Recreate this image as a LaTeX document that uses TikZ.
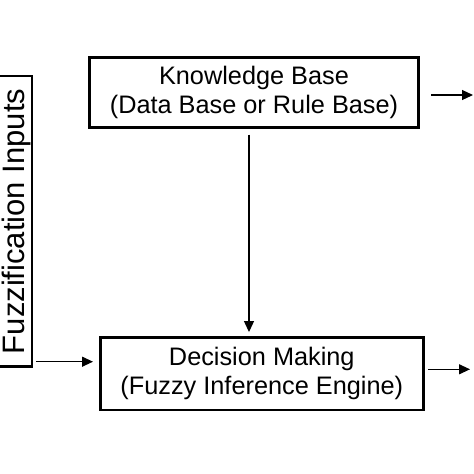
\documentclass[tikz,border=0pt]{standalone}
\usepackage{fontspec}
\setmainfont{Liberation Sans}
\usepackage{tikz}
\usetikzlibrary{arrows.meta}
\tikzset{->-/.style={-{Triangle[length=11pt,width=10pt]}, line width=1.2pt},
    blk/.style={draw=black, line width=2.6pt, inner sep=0pt, align=center,
    font=\fontsize{25.3}{28.7}\selectfont}}

\begin{document}
\begin{tikzpicture}[x=1pt,y=1pt]
                        \useasboundingbox (0,0) rectangle (474,-474);

                        \node[blk, minimum width=329.4pt, minimum height=70.4pt] (KB) at (254,-92.5) {Knowledge Base\\(Data Base or Rule Base)};
                        \node[blk, minimum width=323pt, minimum height=72.7pt] (DM) at (261.8,-373.7) {Decision Making\\(Fuzzy Inference Engine)};
                        \node[blk, rotate=90, minimum width=290.7pt, minimum height=34.7pt, text height=26pt, font=\fontsize{31}{34}\selectfont] (FI) at (14.6,-221.4) {Fuzzification Inputs};

                        \coordinate (KBout) at (473,-95);
                        \coordinate (DMout) at (470,-369.3);

                        \draw[->-] (KB.east |- KBout) ++(11,0) -- (KBout);
                        \draw[->-] (DM.east |- DMout) ++(3.5,0) -- (DMout);
                        \draw[->-, shorten <=5.5pt, shorten >=4pt] (249,0 |- KB.south) -- (249,0 |- DM.north);
                        \draw[->-, shorten <=2.5pt, shorten >=6pt] (FI.south |- 0,-361.7) -- (DM.west |- 0,-361.7);

                    \end{tikzpicture}
\end{document}
